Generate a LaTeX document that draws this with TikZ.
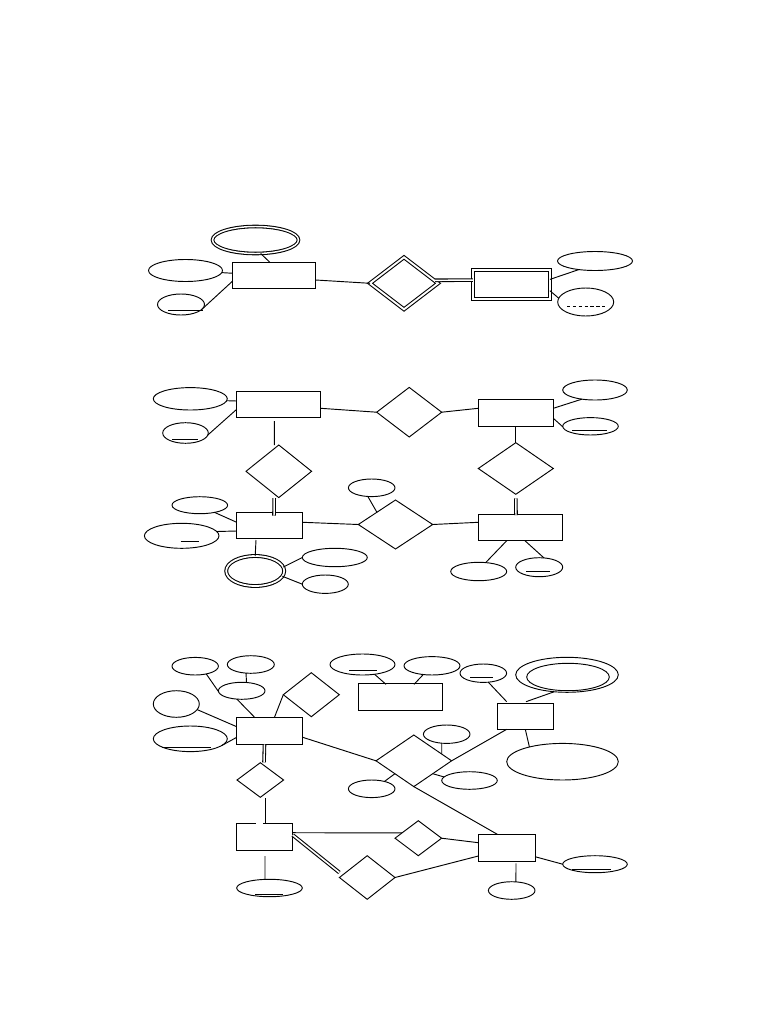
\documentclass[tikz,border=0pt]{standalone}
\usetikzlibrary{shapes.geometric,calc}
\begin{document}
\begin{tikzpicture}[x=0.75pt,y=-0.75pt,
  base/.style={draw, line width=0.7pt, inner sep=0pt, outer sep=0pt},
  ent/.style 2 args={base, rectangle, minimum width=#1*0.75pt, minimum height=#2*0.75pt},
  att/.style 2 args={base, ellipse, minimum width=#1*0.75pt, minimum height=#2*0.75pt},
  rel/.style 2 args={base, diamond, minimum width=#1*0.75pt, minimum height=#2*0.75pt},
  dbl/.style={double, double distance=1.1pt, line width=0.8pt},
  ln/.style={line width=0.7pt},
  ul/.style={line width=0.7pt},
  dul/.style={line width=0.7pt, dash pattern=on 2.6pt off 1.8pt}]
\fill[white] (0,0) rectangle (768,1024);
\useasboundingbox (0,0) rectangle (768,1024);

% ---------------- Diagram 1 ----------------
\node[att={86}{27}, dbl] (d1ma) at (255.5,240) {};
\node[att={74}{22}] (d1a1) at (185.5,270.5) {};
\node[att={47}{21}] (d1k) at (181,304.5) {};
\node[ent={83}{26}] (d1e) at (274.2,275.7) {};
\node[rel={68}{52}, dbl, double distance=1.4pt] (d1r) at (404,283.3) {};
\node[ent={77}{29}, dbl, double distance=1.6pt] (d1w) at (511.4,284.7) {};
\node[att={75}{19}] (d1b1) at (595,261) {};
\node[att={56}{28}] (d1b2) at (585.7,302) {};
\draw[ul] (168,310.7) -- (203,310.7);
\draw[dul] (567,306) -- (605,306);

\draw[ln] (d1ma.-69) -- ($(d1e.north)+(-4,0)$);
\draw[ln] (d1a1) -- (d1e);
\draw[ln] (d1k.-13) -- ($(d1e.west)+(0,5.3)$);
\draw[ln] ($(d1e.east)+(0,4.3)$) -- (d1r.west);
\draw[dbl] ($(d1r.east)+(-3,-3)$) -- ($(d1w.west)+(0,-4.6)$);
\draw[ln] ($(d1w.east)+(0,-5.3)$) -- (d1b1.208);
\draw[ln] ($(d1w.east)+(0,6)$) -- (d1b2.172);

% ---------------- Diagram 2 ----------------
\node[att={74}{22.4}] (d2a1) at (190.3,398.8) {};
\node[att={45.6}{20.6}] (d2k1) at (185.5,433) {};
\node[ent={84}{26.3}] (d2A) at (278.7,404.2) {};
\node[rel={65}{49.6}] (d2r1) at (409.2,412.2) {};
\node[ent={75}{26.7}] (d2B) at (515.8,413.3) {};
\node[att={64.6}{20}] (d2b1) at (595,390) {};
\node[att={55.6}{17.4}] (d2b2) at (590.5,426.3) {};
\node[rel={65.6}{52.6}] (d2r2) at (278.8,471.3) {};
\node[ent={66}{26}] (d2C) at (269.7,525.3) {};
\node[att={55.6}{17}] (d2c1) at (199.8,505.2) {};
\node[att={74.6}{25}] (d2c2) at (181.7,535.8) {};
\node[att={58}{30}, dbl, double distance=1.3pt] (d2c3) at (255.2,571) {};
\node[att={65}{18.4}] (d2c4) at (334.8,557.5) {};
\node[att={46}{18.4}] (d2c5) at (325.3,584.2) {};
\node[rel={74.4}{49}] (d2r3) at (395.5,524.5) {};
\node[att={46.6}{17.6}] (d2r3a) at (371.7,487.8) {};
\node[ent={84.4}{25.7}] (d2D) at (520.5,527.2) {};
\node[rel={75}{51.6}] (d2r4) at (515.8,468.5) {};
\node[att={56}{18.4}] (d2d1) at (478.7,571.5) {};
\node[att={47}{19}] (d2d2) at (539.2,567.2) {};
\draw[ul] (172.3,439.7) -- (198.3,439.7);
\draw[ul] (572.3,430) -- (606.7,430);
\draw[ul] (180.7,541.7) -- (199,541.7);
\draw[ul] (526,571) -- (550,571);

\draw[ln] (d2a1.-3) -- ($(d2A.west)+(0,-3.2)$);
\draw[ln] (d2k1.-5) -- ($(d2A.west)+(0,5.1)$);
\draw[ln] ($(d2A.east)+(0,4.1)$) -- (d2r1.west);
\draw[ln] (d2r1.east) -- ($(d2B.west)+(0,-5)$);
\draw[ln] ($(d2B.east)+(0,-5)$) -- (d2b1.215);
\draw[ln] ($(d2B.east)+(0,5)$) -- (d2b2.181);
\draw[ln] ($(d2A.south)+(-4.4,3.8)$) -- ($(d2r2.north)+(-4.5,0)$);
\draw[dbl] ($(d2r2.south)+(-4.6,0.5)$) -- ($(d2C.north)+(4.3,3.4)$);
\draw[ln] (d2c1.-26) -- ($(d2C.west)+(0,-3)$);
\draw[ln] (d2c2.7) -- ($(d2C.west)+(0,5.7)$);
\draw[ln] ($(d2C.south)+(-13.7,1.7)$) -- (d2c3.north);
\draw[ln] (d2c3.8) -- (d2c4.180);
\draw[ln] (d2c3.-11) -- (d2c5.180);
\draw[ln] ($(d2C.east)+(0,-3)$) -- (d2r3.west);
\draw[ln] (d2r3a.-114) -- (d2r3.north west);
\draw[ln] (d2r3.east) -- ($(d2D.west)+(0,-4.9)$);
\draw[ln] (d2B.south) -- (d2r4.north);
\draw[dbl] ($(d2r4.south)+(0,4)$) -- ($(d2D.north)+(-4.5,0.7)$);
\draw[ln] ($(d2D.south)+(-13.8,0.7)$) -- (d2d1.52);
\draw[ln] ($(d2D.south)+(4.5,0.7)$) -- (d2d2.63);

% ---------------- Diagram 3 ----------------
\node[att={46.4}{17.6}] (e1) at (195.2,666.2) {};
\node[att={47}{17.6}] (e2) at (250.8,664.5) {};
\node[att={46.6}{17}] (e3) at (241.7,690.8) {};
\node[att={46}{26.6}] (e4) at (176.3,704) {};
\node[att={74}{25.6}] (e5) at (190.3,738.8) {};
\node[ent={66}{26.6}] (F) at (269.7,731) {};
\node[rel={56}{44}] (rs) at (311.3,694.7) {};
\node[att={65}{21}] (g1) at (362.5,664.5) {};
\node[att={56}{18.4}] (g2) at (432,665.8) {};
\node[ent={84}{26.7}] (G) at (400.3,696.7) {};
\node[att={46.6}{18.4}] (h1) at (483.3,673.2) {};
\node[att={102.6}{35}] (h2o) at (567,674.8) {};
\node[att={82.6}{27.4}] (h2i) at (568,677) {};
\node[ent={56}{26}] (H) at (525.3,716.3) {};
\node[att={111.6}{36.6}] (h3) at (562.5,761.7) {};
\node[rel={75.6}{51.6}] (M) at (413.8,760.8) {};
\node[att={46.6}{18.4}] (m1) at (446.7,734.2) {};
\node[att={55.6}{17.6}] (m2) at (469.5,780.5) {};
\node[att={46.6}{17.6}] (m3) at (371.7,788.8) {};
\node[rel={46.6}{34.6}] (n1) at (260.3,780) {};
\node[ent={56}{26.7}] (J) at (264.7,836.7) {};
\node[att={65.6}{17.4}] (j1) at (269.5,888) {};
\node[rel={46.6}{35}] (n2) at (418.3,838.2) {};
\node[ent={56.7}{27.4}] (I) at (506.7,848) {};
\node[rel={55.6}{43.6}] (n3) at (367.2,877.5) {};
\node[att={64.6}{17}] (i1) at (595,864.2) {};
\node[att={46.6}{17.6}] (i2) at (511.7,890.5) {};
\draw[ul] (161.7,747.3) -- (210.7,747.3);
\draw[ul] (349,670) -- (376.7,670);
\draw[ul] (470,677.3) -- (493.3,677.3);
\draw[ul] (255,894.3) -- (283.3,894.3);
\draw[ul] (572.3,869) -- (610.7,869);
\draw[white, line width=1.3pt] (255.5,823.35) -- (263.3,823.35);

\draw[ln] (e2.-119) -- (e3.60);
\draw[ln] (e1.-35) -- (e3.182);
\draw[ln] (e3.-120) -- ($(F.north)+(-14.7,0)$);
\draw[ln] (e4.-15) -- ($(F.west)+(0,-4.3)$);
\draw[ln] (e5.-12.5) -- ($(F.west)+(0,6.3)$);
\draw[ln] ($(F.north)+(4.6,0)$) -- (rs.west);
\draw[ln] (g1.-39) -- ($(G.north)+(-14.3,1)$);
\draw[ln] (g2.-135) -- ($(G.north)+(13.7,1)$);
\draw[ln] (h1.-61) -- ($(H.north)+(-18.6,-1.6)$);
\draw[ln] (h2o.-127.6) -- ($(H.north)+(0.7,-1.6)$);
\draw[ln] (H.south) -- (h3.156);
\draw[ln] ($(F.east)+(0,6.3)$) -- (M.west);
\draw[ln] (M.east) -- ($(H.south west)+(9.4,0)$);
\draw[ln] (m1.-119) -- ($(M.east)!0.26!(M.north)$);
\draw[ln] (m2.172) -- (M.south east);
\draw[ln] (m3.30) -- (M.south west);
\draw[ln] (M.south) -- ($(I.north)+(-9.4,0)$);
\draw[dbl] ($(F.south)+(-5.2,0)$) -- ($(n1.north)+(3.7,-0.4)$);
\draw[ln] ($(n1.south)+(4.7,1)$) -- ($(J.north)+(0.3,0)$);
\draw[ln] ($(J.south)+(0.3,6)$) -- ($(j1.north)+(-4.5,0)$);
\draw[ln] ($(J.east)+(0,-4)$) -- ($(n2.west)!0.3!(n2.north)$);
\draw[ln] (n2.east) -- ($(I.west)+(0,-5.3)$);
\draw[dbl, double distance=1.2pt] ($(J.east)+(0,-1.7)$) -- ($(n3.west)+(0,-5)$);
\draw[ln] (n3.east) -- ($(I.west)+(0,8)$);
\draw[ln] ($(I.east)+(0,8.7)$) -- (i1.west);
\draw[ln] ($(I.south)+(9.3,1.6)$) -- (i2.64);
\end{tikzpicture}
\end{document}
